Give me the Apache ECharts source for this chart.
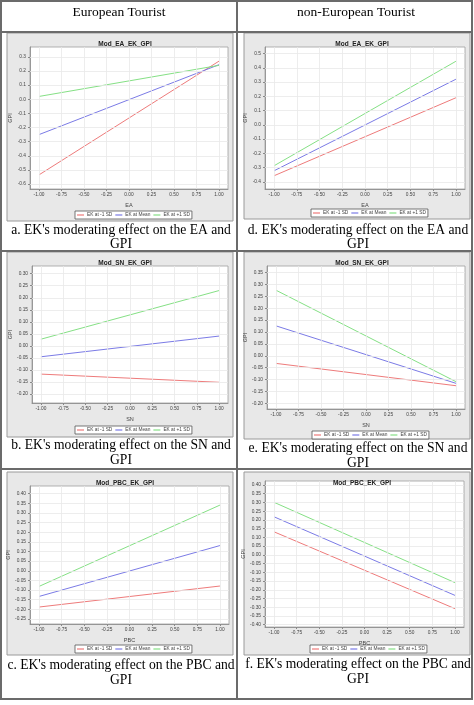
<!DOCTYPE html>
<html><head><meta charset="utf-8">
<script src="https://cdn.jsdelivr.net/npm/echarts@6/dist/echarts.min.js"></script>
<style>html,body{margin:0;padding:0;background:#fff}#c{width:474px;height:705px}</style>
</head><body><div id="c"></div>
<script>
// ---------- data ----------
const seriesNames = ['EK at -1 SD', 'EK at Mean', 'EK at +1 SD'];
const headers = ['European Tourist', 'non-European Tourist'];
const xValues = [-1, 1];
const xTicks = [-1, -0.75, -0.5, -0.25, 0, 0.25, 0.5, 0.75, 1];
const xRange = [-1.1, 1.1];

// a. European, EA
const aTitle = 'Mod_EA_EK_GPI', aXName = 'EA';
const aLow = [-0.535, 0.27], aMean = [-0.25, 0.245], aHigh = [0.02, 0.24];
const aTicks = [-0.6, -0.5, -0.4, -0.3, -0.2, -0.1, 0, 0.1, 0.2, 0.3];
const aRange = [-0.635, 0.37];
const aCaption = ["a. EK's moderating effect on the EA and", 'GPI'];

// b. European, SN
const bTitle = 'Mod_SN_EK_GPI', bXName = 'SN';
const bLow = [-0.117, -0.151], bMean = [-0.045, 0.041], bHigh = [0.028, 0.23];
const bTicks = [-0.2, -0.15, -0.1, -0.05, 0, 0.05, 0.1, 0.15, 0.2, 0.25, 0.3];
const bRange = [-0.237, 0.332];
const bCaption = ["b. EK's moderating effect on the SN and", 'GPI'];

// c. European, PBC
const cTitle = 'Mod_PBC_EK_GPI', cXName = 'PBC';
const cLow = [-0.188, -0.079], cMean = [-0.133, 0.131], cHigh = [-0.081, 0.341];
const cTicks = [-0.25, -0.2, -0.15, -0.1, -0.05, 0, 0.05, 0.1, 0.15, 0.2, 0.25, 0.3, 0.35, 0.4];
const cRange = [-0.276, 0.44];
const cCaption = ["c. EK's moderating effect on the PBC and", 'GPI'];

// d. non-European, EA
const dTitle = 'Mod_EA_EK_GPI', dXName = 'EA';
const dLow = [-0.357, 0.19], dMean = [-0.322, 0.32], dHigh = [-0.287, 0.446];
const dTicks = [-0.4, -0.3, -0.2, -0.1, 0, 0.1, 0.2, 0.3, 0.4, 0.5];
const dRange = [-0.45, 0.546];
const dCaption = ["d. EK's moderating effect on the EA and", 'GPI'];

// e. non-European, SN
const eTitle = 'Mod_SN_EK_GPI', eXName = 'SN';
const eLow = [-0.032, -0.126], eMean = [0.126, -0.116], eHigh = [0.276, -0.109];
const eTicks = [-0.2, -0.15, -0.1, -0.05, 0, 0.05, 0.1, 0.15, 0.2, 0.25, 0.3, 0.35];
const eRange = [-0.224, 0.378];
const eCaption = ["e. EK's moderating effect on the SN and", 'GPI'];

// f. non-European, PBC
const fTitle = 'Mod_PBC_EK_GPI', fXName = 'PBC';
const fLow = [0.132, -0.308], fMean = [0.218, -0.232], fHigh = [0.301, -0.159];
const fTicks = [-0.4, -0.35, -0.3, -0.25, -0.2, -0.15, -0.1, -0.05, 0, 0.05, 0.1, 0.15, 0.2, 0.25, 0.3, 0.35, 0.4];
const fRange = [-0.413, 0.423];
const fCaption = ["f. EK's moderating effect on the PBC and", 'GPI'];

// ---------- layout ----------
const colors = ['#ee7b7b', '#7b7be6', '#85e085'];
const panels = [
  {title: aTitle, xName: aXName, lines: [aLow, aMean, aHigh], ticks: aTicks, range: aRange, dec: 1, caption: aCaption,
   box: [7, 33, 226, 188], grid: [30, 47, 198, 142], legend: [75, 211], cap: [230, 244]},
  {title: bTitle, xName: bXName, lines: [bLow, bMean, bHigh], ticks: bTicks, range: bRange, dec: 2, caption: bCaption,
   box: [7, 252, 226, 185], grid: [32, 266, 196, 137], legend: [75, 426], cap: [445, 460]},
  {title: cTitle, xName: cXName, lines: [cLow, cMean, cHigh], ticks: cTicks, range: cRange, dec: 2, caption: cCaption,
   box: [7, 472, 226, 183], grid: [30, 486, 199, 138], legend: [75, 645], cap: [665, 680]},
  {title: dTitle, xName: dXName, lines: [dLow, dMean, dHigh], ticks: dTicks, range: dRange, dec: 1, caption: dCaption,
   box: [244, 33, 226, 186], grid: [265, 47, 200, 142], legend: [311, 209], cap: [230, 244]},
  {title: eTitle, xName: eXName, lines: [eLow, eMean, eHigh], ticks: eTicks, range: eRange, dec: 2, caption: eCaption,
   box: [244, 252, 226, 187], grid: [267, 266, 198, 143], legend: [312, 431], cap: [448, 463]},
  {title: fTitle, xName: fXName, lines: [fLow, fMean, fHigh], ticks: fTicks, range: fRange, dec: 2, caption: fCaption,
   box: [244, 472, 226, 183], grid: [265, 481, 199, 146], legend: [310, 645], cap: [664, 679]}
];

const option = {
  animation: false,
  backgroundColor: '#fff',
  title: [], grid: [], xAxis: [], yAxis: [], series: [], legend: [],
  graphic: {elements: []}
};
const G = option.graphic.elements;
const lineCol = '#6b6b6b';
const gridCol = '#e9e9e9';

panels.forEach((p, i) => {
  const [bx, by, bw, bh] = p.box;
  G.push({type: 'rect', z: -10, shape: {x: bx, y: by, width: bw, height: bh},
          style: {fill: '#e8e8e8', stroke: '#9a9a9a', lineWidth: 1}});
  option.title.push({text: p.title, left: bx + bw / 2, top: by + 3, textAlign: 'center',
    textStyle: {fontSize: 6.5, fontWeight: 'bold', color: '#222', fontFamily: 'Liberation Sans'}});
  const [gl, gt, gw, gh] = p.grid;
  option.grid.push({left: gl, top: gt, width: gw, height: gh, show: true,
    backgroundColor: '#fff', borderColor: '#a0a0a0', borderWidth: 0.8});
  option.xAxis.push({type: 'value', gridIndex: i, min: xRange[0], max: xRange[1],
    name: p.xName, nameLocation: 'middle', nameGap: 13,
    nameTextStyle: {fontSize: 5.5, color: '#444'},
    axisLine: {show: true, onZero: false, lineStyle: {color: '#888', width: 0.8}},
    axisTick: {show: true, length: 2, customValues: xTicks, lineStyle: {color: '#888'}},
    axisLabel: {customValues: xTicks, fontSize: 4.8, color: '#444', margin: 3,
      formatter: v => v.toFixed(2)},
    splitLine: {show: false}});
  option.yAxis.push({type: 'value', gridIndex: i, min: p.range[0], max: p.range[1],
    name: 'GPI', nameLocation: 'middle', nameGap: p.grid[0] - p.box[0] - 6, nameRotate: 90,
    nameTextStyle: {fontSize: 5.5, color: '#444'},
    axisLine: {show: true, onZero: false, lineStyle: {color: '#888', width: 0.8}},
    axisTick: {show: true, length: 2, customValues: p.ticks, lineStyle: {color: '#888'}},
    axisLabel: {customValues: p.ticks, fontSize: 4.8, color: '#444', margin: 4,
      formatter: v => v.toFixed(p.dec)},
    splitLine: {show: false}});
  // gridlines at the tick values
  option.series.push({type: 'line', name: 'grid' + i, xAxisIndex: i, yAxisIndex: i, data: [], silent: true, z: 1,
    markLine: {silent: true, symbol: 'none', animation: false, label: {show: false},
      lineStyle: {color: gridCol, width: 0.8, type: 'solid'},
      emphasis: {disabled: true},
      data: xTicks.map(v => ({xAxis: v})).concat(p.ticks.map(v => ({yAxis: v})))}});
  p.lines.forEach((vals, k) => {
    option.series.push({type: 'line', name: seriesNames[k], xAxisIndex: i, yAxisIndex: i, z: 3,
      data: xValues.map((x, j) => [x, vals[j]]), showSymbol: false, symbol: 'none',
      lineStyle: {color: colors[k], width: 1}, itemStyle: {color: colors[k]}});
  });
  option.legend.push({data: seriesNames, left: p.legend[0], top: p.legend[1], orient: 'horizontal',
    icon: 'rect', itemWidth: 7, itemHeight: 1.2, itemGap: 3, padding: [1.5, 2],
    borderColor: '#555', borderWidth: 0.8, backgroundColor: '#fff',
    textStyle: {fontSize: 4.8, color: '#444', padding: [0, 0, 0, -2]}});
  const cx = bx + bw / 2 + 1;
  p.caption.forEach((t, k) => {
    G.push({type: 'text', z: 50, style: {text: t, x: cx, y: p.cap[k], align: 'center', verticalAlign: 'middle',
      font: '13.6px "Liberation Serif"', fill: '#000'}});
  });
});

// headers
headers.forEach((h, k) => {
  G.push({type: 'text', z: 50, style: {text: h, x: k === 0 ? 119 : 356, y: 12, align: 'center', verticalAlign: 'middle',
    font: '13.5px "Liberation Serif"', fill: '#000'}});
});
// table lines
const hLines = [1, 32, 251, 469, 699];
hLines.forEach(y => G.push({type: 'line', z: 60, shape: {x1: 1, y1: y, x2: 473, y2: y}, style: {stroke: lineCol, lineWidth: 2}}));
[1, 237, 472].forEach(x => G.push({type: 'line', z: 60, shape: {x1: x, y1: 0, x2: x, y2: 700}, style: {stroke: lineCol, lineWidth: 2}}));

const chart = echarts.init(document.getElementById('c'), null, {renderer: 'canvas'});
chart.setOption(option);
</script></body></html>
